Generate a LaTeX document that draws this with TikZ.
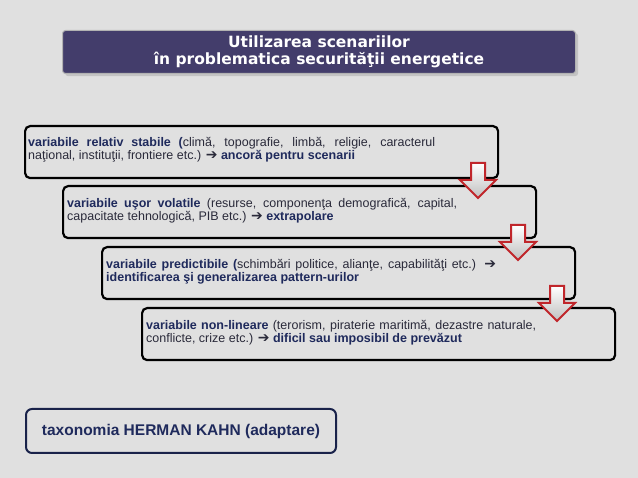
\documentclass[tikz,border=0pt]{standalone}
\usepackage{fontspec}
\setmainfont{Liberation Sans}
\newfontfamily\dejavu{DejaVu Sans}
\usetikzlibrary{shadows}
\definecolor{bg}{HTML}{E0E0E0}
\definecolor{navy}{HTML}{1F2A5C}
\definecolor{titlebg}{HTML}{433D6B}
\definecolor{txt}{HTML}{2A2A3A}
\definecolor{arr}{HTML}{C0262B}
\newcommand{\ar}{{\dejavu\bfseries\fontsize{14}{13}\selectfont ➔}}
\newcommand{\bb}[1]{\textbf{\color{navy}#1}}
\tikzset{
 varbox/.style={draw=black,line width=2.2pt,rounded corners=5pt,fill=bg,minimum width=473pt,minimum height=52pt,anchor=north west,inner sep=0pt},
 vartext/.style={anchor=north west,text width=390pt,align=justify,font=\fontsize{12.5}{13}\selectfont,text=txt,inner sep=0pt},
 downarr/.style={draw=arr,line width=2pt,top color=white,bottom color=gray!50}
}
\begin{document}
\begin{tikzpicture}[x=1pt,y=-1pt]
\fill[bg] (0,0) rectangle (638,478);
\useasboundingbox (0,0) rectangle (638,478);
\node[fill=titlebg,draw=gray!60,line width=1pt,rounded corners=3pt,minimum width=513pt,minimum height=43pt,anchor=north west,inner sep=0pt,drop shadow={opacity=0.3}] (title) at (62,30) {};
\node[text=white,align=center,font=\dejavu\bfseries\fontsize{15.5}{17}\selectfont] (tt) at (title.center) {Utilizarea scenariilor\\în problematica securităţii energetice};
\foreach \i/\x/\y in {1/24/125,2/62/185,3/101/246,4/141/307}{
 \node[varbox] (b\i) at (\x,\y) {};
}
\node[vartext,text width=407pt] (t1) at ([xshift=4pt,yshift=-12pt]b1.north west) {\bb{variabile relativ stabile (}climă, topografie, limbă, religie, caracterul\linebreak naţional, instituţii, frontiere etc.) \ar\ \bb{ancoră pentru scenarii}};
\node[vartext] (t2) at ([xshift=5pt,yshift=-13pt]b2.north west) {\bb{variabile uşor volatile} (resurse, componenţa demografică, capital,\linebreak capacitate tehnologică, PIB etc.) \ar\ \bb{extrapolare}};
\node[vartext] (t3) at ([xshift=5pt,yshift=-13pt]b3.north west) {\bb{variabile predictibile (}schimbări politice, alianţe, capabilităţi etc.) \ar\linebreak \bb{identificarea şi generalizarea pattern-urilor}};
\node[vartext] (t4) at ([xshift=5pt,yshift=-13pt]b4.north west) {\bb{variabile non-lineare} (terorism, piraterie maritimă, dezastre naturale,\linebreak conflicte, crize etc.) \ar\ \bb{dificil sau imposibil de prevăzut}};
\foreach \x/\y in {478/163,518/225,557/286}{
 \draw[downarr] (\x-7,\y) -- (\x+7,\y) -- (\x+7,\y+17) -- (\x+18,\y+17) -- (\x,\y+35) -- (\x-18,\y+17) -- (\x-7,\y+17) -- cycle;
}
\node[draw=navy!80!black,line width=2pt,rounded corners=6pt,fill=bg,minimum width=310pt,minimum height=44pt,anchor=north west,inner sep=0pt] (tax) at (25,408) {};
\node[font=\bfseries\fontsize{15.5}{17}\selectfont,text=navy] (taxt) at (tax.center) {taxonomia HERMAN KAHN (adaptare)};
\end{tikzpicture}
\end{document}
